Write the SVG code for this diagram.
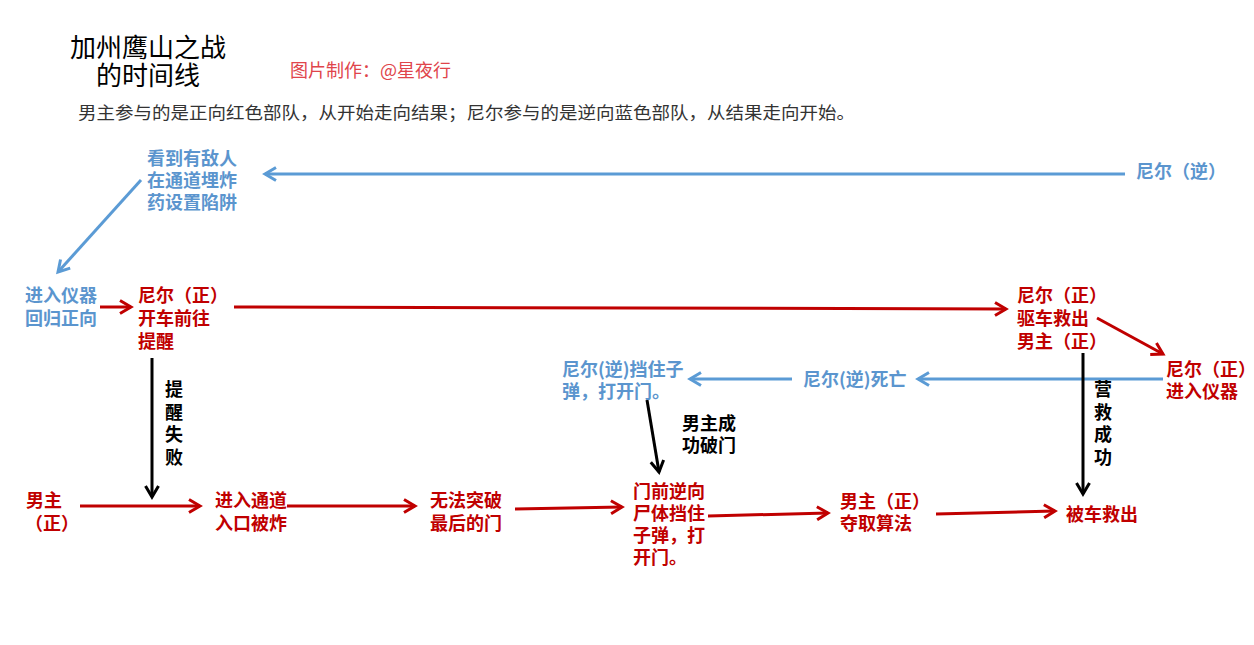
<svg xmlns="http://www.w3.org/2000/svg" width="1254" height="645" viewBox="0 0 1254 645">
<style>
text{font-family:"Noto Sans CJK SC","Noto Sans",sans-serif;}
.n{font-size:18px;font-weight:700;}
.r{fill:#C00000;}
.b{fill:#5B95CE;}
.k{fill:#000;}
.lr{stroke:#C00000;stroke-width:3;fill:none;marker-end:url(#ar);}
.lb{stroke:#5B9BD5;stroke-width:3;fill:none;marker-end:url(#ab);}
.lk{stroke:#000;stroke-width:3;fill:none;marker-end:url(#ak);}
</style>
<defs>
<marker id="ar" viewBox="0 0 16 16" refX="13" refY="8" markerWidth="16" markerHeight="16" markerUnits="userSpaceOnUse" orient="auto"><path d="M2,1.5 L13,8 L2,14.5" fill="none" stroke="#C00000" stroke-width="3"/></marker>
<marker id="ab" viewBox="0 0 16 16" refX="13" refY="8" markerWidth="16" markerHeight="16" markerUnits="userSpaceOnUse" orient="auto"><path d="M2,1.5 L13,8 L2,14.5" fill="none" stroke="#5B9BD5" stroke-width="3"/></marker>
<marker id="ak" viewBox="0 0 16 16" refX="13" refY="8" markerWidth="16" markerHeight="16" markerUnits="userSpaceOnUse" orient="auto"><path d="M2,1.5 L13,8 L2,14.5" fill="none" stroke="#000" stroke-width="3"/></marker>
</defs>
<rect width="1254" height="645" fill="#fff"/>

<g id="header">
<text x="148" y="57" font-size="26" text-anchor="middle" fill="#000">加州鹰山之战</text>
<text x="148" y="85" font-size="26" text-anchor="middle" fill="#000">的时间线</text>
<text x="290" y="77" font-size="18" fill="#E0454B">图片制作：@星夜行</text>
<text x="78" y="119" font-size="17" fill="#333" textLength="777" lengthAdjust="spacingAndGlyphs">男主参与的是正向红色部队，从开始走向结果；尼尔参与的是逆向蓝色部队，从结果走向开始。</text>
</g>

<g id="connectors">
<line class="lb" x1="1125" y1="174" x2="265" y2="174"/>
<line class="lb" x1="141" y1="180" x2="58" y2="272"/>
<line class="lr" x1="100" y1="307" x2="131" y2="307"/>
<line class="lr" x1="234" y1="307" x2="1006" y2="309"/>
<line class="lr" x1="1097" y1="318" x2="1163" y2="354"/>
<line class="lb" x1="1163" y1="379" x2="918" y2="379"/>
<line class="lb" x1="792" y1="379" x2="690" y2="379"/>
<line class="lk" x1="152" y1="358" x2="152" y2="497"/>
<line class="lk" x1="647" y1="400" x2="659" y2="472"/>
<line class="lk" x1="1083" y1="353" x2="1083" y2="494"/>
<line class="lr" x1="80" y1="506" x2="200" y2="506"/>
<line class="lr" x1="287" y1="506" x2="415" y2="506"/>
<line class="lr" x1="515" y1="509" x2="622" y2="507"/>
<line class="lr" x1="708" y1="516" x2="828" y2="513"/>
<line class="lr" x1="936" y1="514" x2="1055" y2="511"/>
</g>

<g id="n-nier-ni" class="n b"><text x="1136" y="178">尼尔（逆）</text></g>
<g id="n-trap" class="n b"><text x="147" y="165">看到有敌人<tspan x="147" dy="22">在通道埋炸</tspan><tspan x="147" dy="22">药设置陷阱</tspan></text></g>
<g id="n-enter-back" class="n b"><text x="25" y="302">进入仪器<tspan x="25" dy="23">回归正向</tspan></text></g>
<g id="n-drive" class="n r"><text x="138" y="302">尼尔（正）<tspan x="138" dy="23">开车前往</tspan><tspan x="138" dy="23">提醒</tspan></text></g>
<g id="n-rescue-drive" class="n r"><text x="1017" y="302">尼尔（正）<tspan x="1017" dy="23">驱车救出</tspan><tspan x="1017" dy="23">男主（正）</tspan></text></g>
<g id="n-nier-enter" class="n r"><text x="1166" y="376">尼尔（正）<tspan x="1166" dy="22">进入仪器</tspan></text></g>
<g id="n-nier-die" class="n b"><text x="803" y="386">尼尔(逆)死亡</text></g>
<g id="n-nier-block" class="n b"><text x="562" y="376">尼尔(逆)挡住子<tspan x="562" dy="22">弹，打开门。</tspan></text></g>
<g id="l-fail" class="n k"><text x="165" y="396">提<tspan x="165" dy="22.5">醒</tspan><tspan x="165" dy="22.5">失</tspan><tspan x="165" dy="22.5">败</tspan></text></g>
<g id="l-break" class="n k"><text x="682" y="430">男主成<tspan x="682" dy="22">功破门</tspan></text></g>
<g id="l-save" class="n k"><text x="1094" y="396">营<tspan x="1094" dy="22.5">救</tspan><tspan x="1094" dy="22.5">成</tspan><tspan x="1094" dy="22.5">功</tspan></text></g>
<g id="n-hero" class="n r"><text x="26" y="507">男主<tspan x="25" dy="23">（正）</tspan></text></g>
<g id="n-tunnel" class="n r"><text x="215" y="507">进入通道<tspan x="215" dy="23">入口被炸</tspan></text></g>
<g id="n-door" class="n r"><text x="430" y="507">无法突破<tspan x="430" dy="23">最后的门</tspan></text></g>
<g id="n-body" class="n r"><text x="633" y="498">门前逆向<tspan x="633" dy="22">尸体挡住</tspan><tspan x="633" dy="22">子弹，打</tspan><tspan x="633" dy="22">开门。</tspan></text></g>
<g id="n-algo" class="n r"><text x="840" y="508">男主（正）<tspan x="840" dy="22">夺取算法</tspan></text></g>
<g id="n-saved" class="n r"><text x="1066" y="521">被车救出</text></g>
</svg>
